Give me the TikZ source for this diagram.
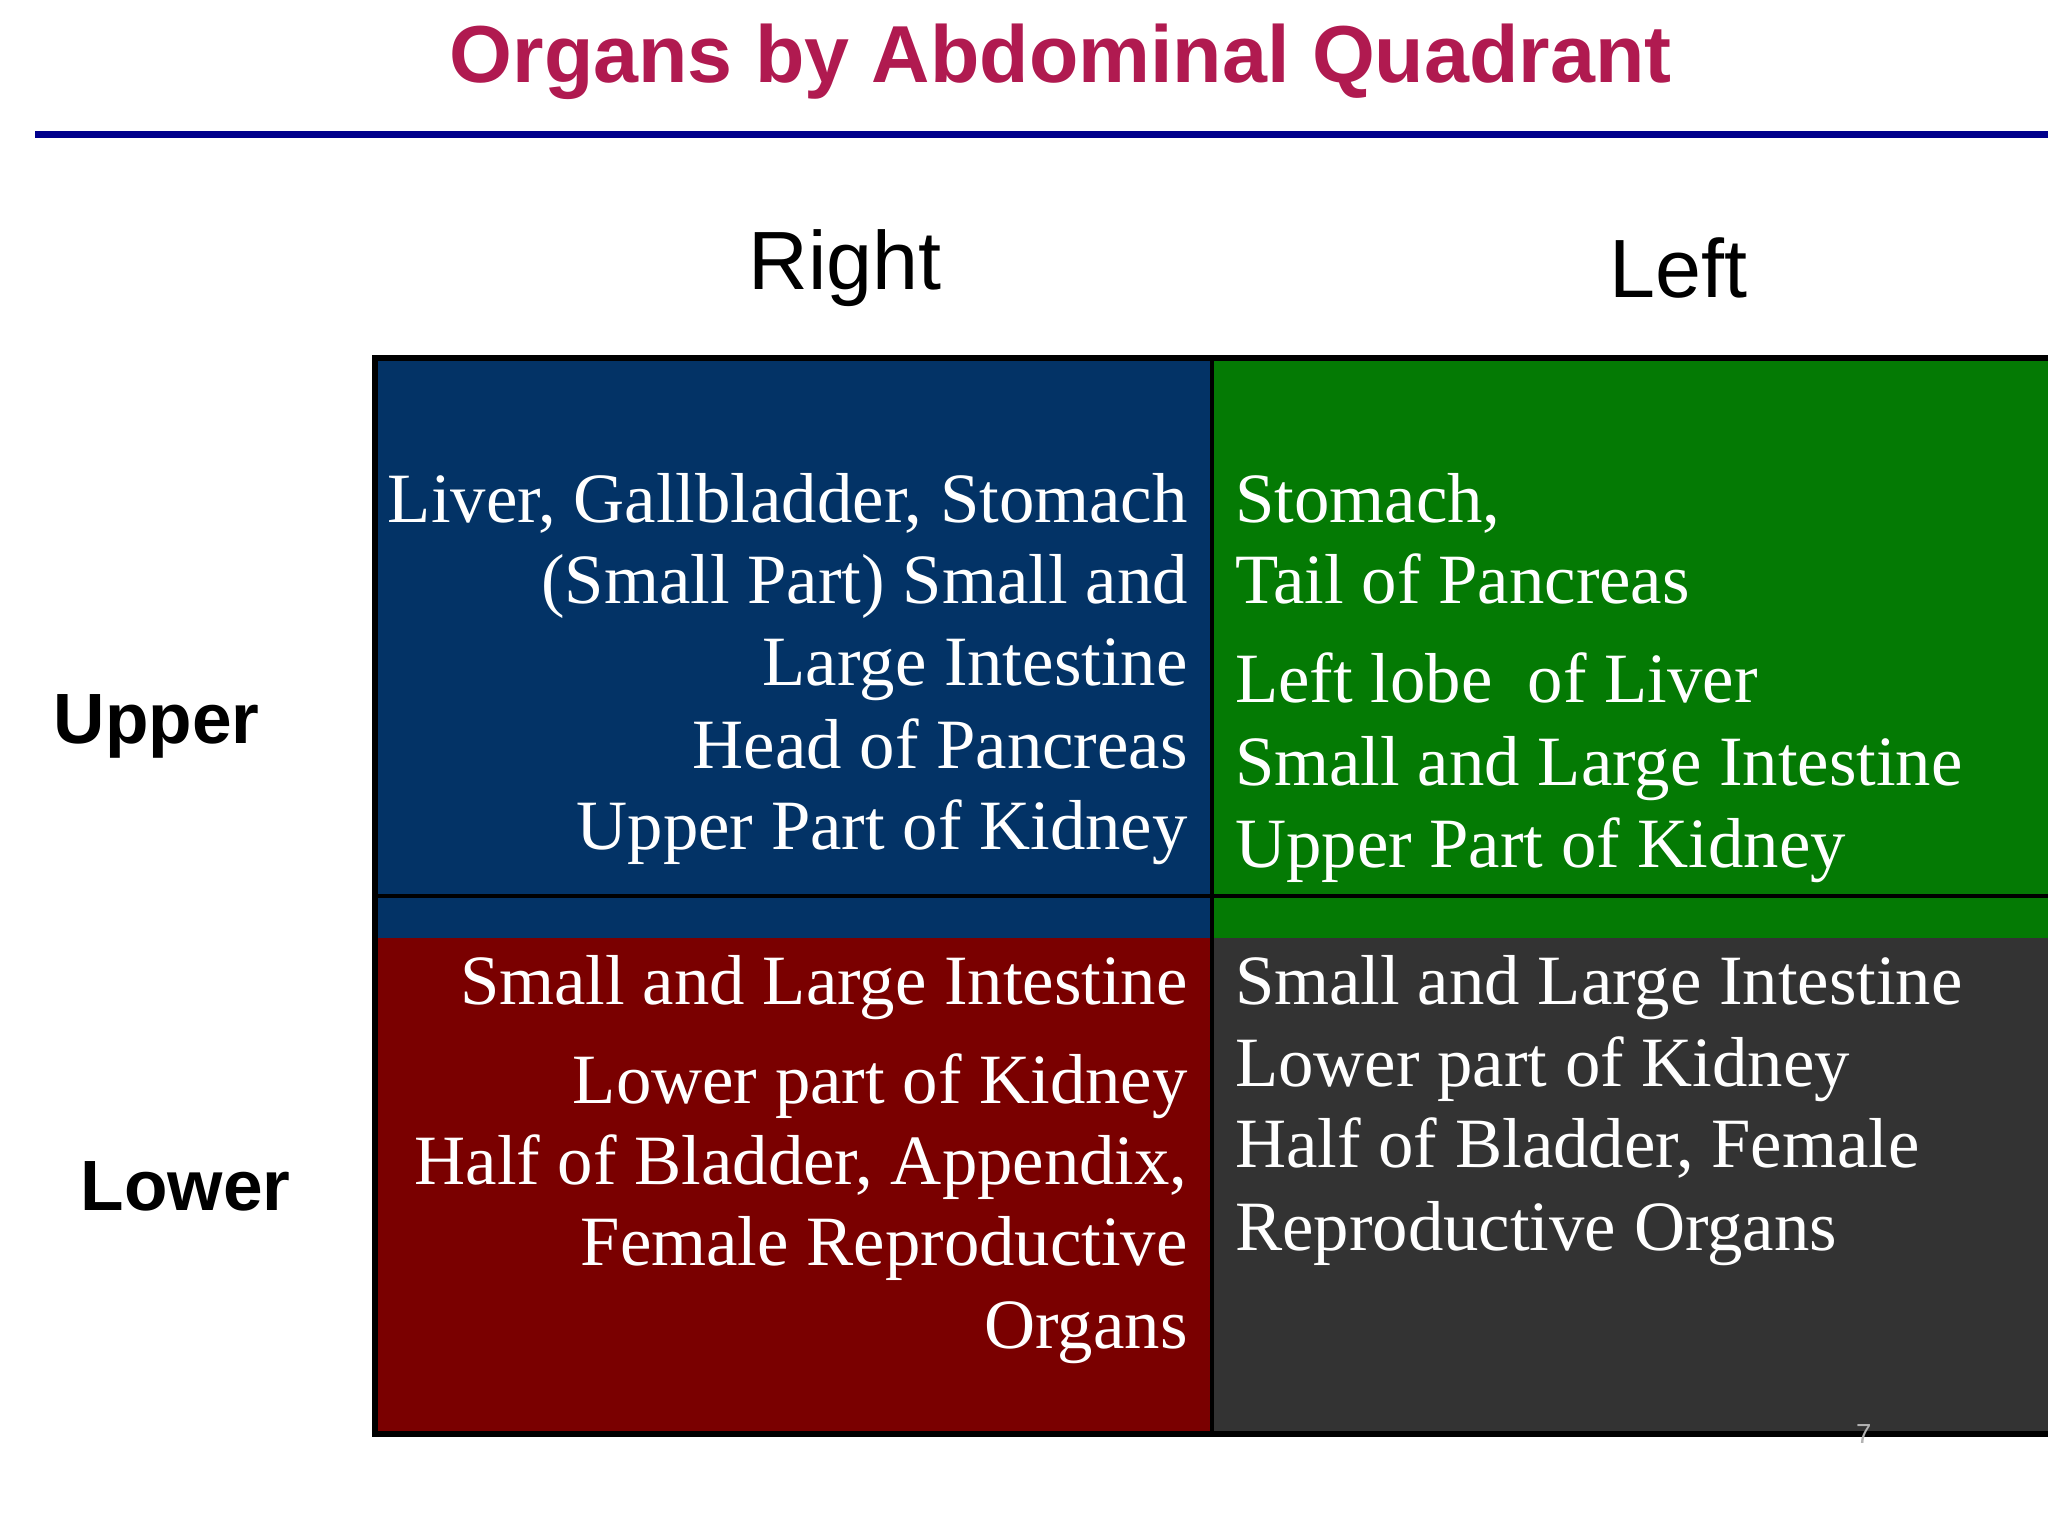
\documentclass[tikz,border=0pt]{standalone}
\usepackage{fontspec}
\setmainfont{Liberation Serif}
\setsansfont{Liberation Sans}
\begin{document}
\begin{tikzpicture}[x=0.01cm,y=-0.01cm,
 cell/.style={font=\fontsize{15.4}{18}\selectfont\rmfamily,text=white,inner sep=0pt},
 rl/.style={cell,anchor=mid east},
 ll/.style={cell,anchor=mid west},
 head/.style={font=\fontsize{18}{20}\selectfont\sffamily},
 side/.style={font=\fontsize{15.5}{18}\selectfont\sffamily\bfseries}]
\definecolor{ttl}{RGB}{176,26,80}
\definecolor{cb}{RGB}{3,51,102}
\definecolor{cg}{RGB}{4,122,4}
\definecolor{cr}{RGB}{122,0,0}
\definecolor{cy}{RGB}{51,51,51}
\definecolor{ln}{RGB}{0,0,140}
\useasboundingbox (0,0) rectangle (1568,1176);
\node[font=\fontsize{17.6}{20}\selectfont\sffamily\bfseries,text=ttl] (t) at (812,47) {Organs by Abdominal Quadrant};
\draw[ln,line width=1.4pt] (27,103) -- (1568,103);
\node[head] (r) at (647,205) {Right};
\node[head] (l) at (1285,205) {Left};
\fill[cb] (287,274) rectangle (928,718);
\fill[cg] (928,274) rectangle (1580,718);
\fill[cr] (287,718) rectangle (928,1098);
\fill[cy] (928,718) rectangle (1580,1098);
\draw[line width=0.8pt] (928,274) -- (928,1098) (287,686) -- (1580,686);
\draw[line width=1.2pt] (1580,274) -- (287,274) -- (287,1098) -- (1580,1098);
\node[side] (u) at (120,556) {Upper};
\node[side] (lo) at (142,908) {Lower};
\node[rl] (a1) at (910,392) {Liver, Gallbladder, Stomach};
\node[rl] (a2) at (910,454) {(Small Part) Small and};
\node[rl] (a3) at (910,517) {Large Intestine};
\node[rl] (a4) at (910,580) {Head of Pancreas};
\node[rl] (a5) at (910,642) {Upper Part of Kidney};
\node[ll] (b1) at (945,392) {Stomach,};
\node[ll] (b2) at (945,454) {Tail of Pancreas};
\node[ll] (b3) at (945,530) {Left lobe~~of Liver};
\node[ll] (b4) at (945,593) {Small and Large Intestine};
\node[ll] (b5) at (945,656) {Upper Part of Kidney};
\node[rl] (c1) at (910,761) {Small and Large Intestine};
\node[rl] (c2) at (910,837) {Lower part of Kidney};
\node[rl] (c3) at (910,899) {Half of Bladder, Appendix,};
\node[rl] (c4) at (910,961) {Female Reproductive};
\node[rl] (c5) at (910,1024) {Organs};
\node[ll] (d1) at (945,761) {Small and Large Intestine};
\node[ll] (d2) at (945,824) {Lower part of Kidney};
\node[ll] (d3) at (945,886) {Half of Bladder, Female};
\node[ll] (d4) at (945,949) {Reproductive Organs};
\node[font=\fontsize{6}{7}\selectfont\sffamily,text=gray!60] (p) at (1427,1098) {7};
\end{tikzpicture}
\end{document}
